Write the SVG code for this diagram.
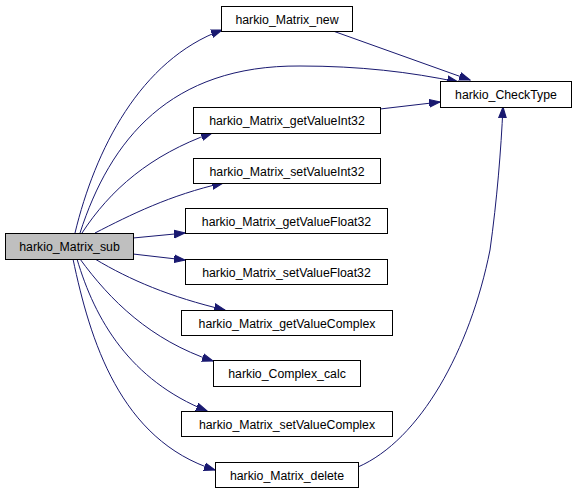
<svg xmlns="http://www.w3.org/2000/svg" width="576" height="493" viewBox="0 0 576 493">
<style>
.n rect{fill:#ffffff;stroke:#000000;stroke-width:1}
.n.sel rect{fill:#bfbfbf}
.n text{font-family:"Liberation Sans",Arial,sans-serif;font-size:12.3px;fill:#000000;text-anchor:middle}
.e path{fill:none;stroke:#191970;stroke-width:1}
</style>
<defs>
<marker id="ah" markerUnits="userSpaceOnUse" markerWidth="12" markerHeight="10" refX="10" refY="0" viewBox="0 -4 11 8" orient="auto">
<path d="M0,-3.5 L10,0 L0,3.5 z" fill="#191970" stroke="#191970" stroke-width="1"/>
</marker>
</defs>
<rect x="0" y="0" width="576" height="493" fill="#ffffff"/>
<g id="connectors" class="e">
<path marker-end="url(#ah)" d="M75,233 C95,150 140,60 222,30"/>
<path marker-end="url(#ah)" d="M80,233 C110,140 170,65 300,66 C360,66 410,72 458,82"/>
<path marker-end="url(#ah)" d="M82,233 C110,190 150,155 212,133"/>
<path marker-end="url(#ah)" d="M95,233 C130,215 170,195 223,183"/>
<path marker-end="url(#ah)" d="M133,238 L185,233"/>
<path marker-end="url(#ah)" d="M133,254 L185,260"/>
<path marker-end="url(#ah)" d="M95,259 C130,280 170,297 225,310"/>
<path marker-end="url(#ah)" d="M80,259 C110,300 150,340 213,361"/>
<path marker-end="url(#ah)" d="M77,259 C95,320 130,380 207,411"/>
<path marker-end="url(#ah)" d="M73,259 C90,340 120,440 215,470"/>
<path marker-end="url(#ah)" d="M333,31 L470,80"/>
<path marker-end="url(#ah)" d="M380,109 L440,102"/>
<path marker-end="url(#ah)" d="M358,467 C420,440 470,350 490,250 C497,200 501,150 503,107"/>
</g>
<g id="node_sub" class="n sel"><rect x="5.5" y="233.5" width="128" height="26"/><text x="69.5" y="251">harkio_Matrix_sub</text></g>
<g id="node_new" class="n"><rect x="221.5" y="6.5" width="131" height="25"/><text x="287" y="23.5">harkio_Matrix_new</text></g>
<g id="node_checktype" class="n"><rect x="440.5" y="81.5" width="131" height="26"/><text x="506" y="99">harkio_CheckType</text></g>
<g id="node_getint" class="n"><rect x="193.5" y="107.5" width="187" height="26"/><text x="287" y="125">harkio_Matrix_getValueInt32</text></g>
<g id="node_setint" class="n"><rect x="193.5" y="158.5" width="187" height="25"/><text x="287" y="175.5">harkio_Matrix_setValueInt32</text></g>
<g id="node_getfloat" class="n"><rect x="185.5" y="208.5" width="202" height="25"/><text x="286.5" y="225.5">harkio_Matrix_getValueFloat32</text></g>
<g id="node_setfloat" class="n"><rect x="185.5" y="259.5" width="202" height="25"/><text x="286.5" y="276.5">harkio_Matrix_setValueFloat32</text></g>
<g id="node_getcomplex" class="n"><rect x="181.5" y="310.5" width="211" height="25"/><text x="287" y="327.5">harkio_Matrix_getValueComplex</text></g>
<g id="node_calc" class="n"><rect x="213.5" y="360.5" width="147" height="26"/><text x="287" y="378">harkio_Complex_calc</text></g>
<g id="node_setcomplex" class="n"><rect x="181.5" y="411.5" width="211" height="25"/><text x="287" y="428.5">harkio_Matrix_setValueComplex</text></g>
<g id="node_delete" class="n"><rect x="215.5" y="462.5" width="143" height="25"/><text x="287" y="479.5">harkio_Matrix_delete</text></g>
</svg>
